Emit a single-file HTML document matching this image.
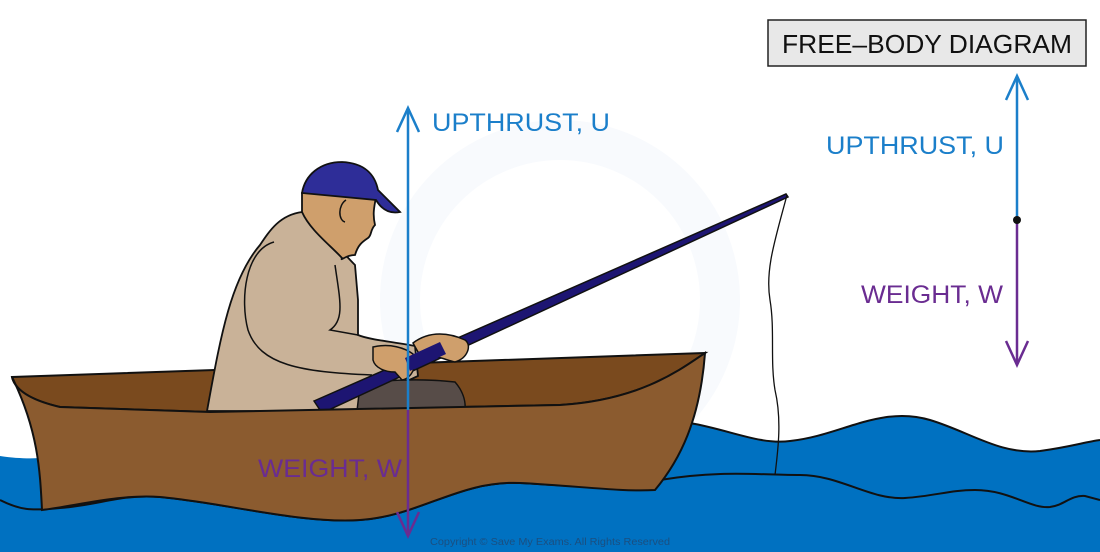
<!DOCTYPE html>
<html><head><meta charset="utf-8"><style>
html,body{margin:0;padding:0;background:#fff;}
svg{display:block;}
text{font-family:"Liberation Sans",sans-serif;}
</style></head><body>
<svg width="1100" height="552" viewBox="0 0 1100 552" xmlns="http://www.w3.org/2000/svg">
<!-- faint watermark -->
<circle cx="560" cy="300" r="160" fill="none" stroke="#f8fafd" stroke-width="40"/>
<!-- water -->
<path d="M0,456 C40,462 60,455 100,452 L300,440 L690,423 C730,430 760,445 790,441 C840,436 880,405 930,420 C970,432 1000,455 1040,451 C1070,447 1085,442 1100,440 L1100,552 L0,552 Z" fill="#0071c1"/>
<path d="M0,500 C20,510 30,511 60,508 C100,505 120,494 160,497 C220,502 300,524 360,520 C420,516 460,480 520,483 C580,486 620,492 660,480 C720,470 760,475 800,475 C840,475 870,500 905,498 C935,496 950,490 975,490 C1010,490 1030,509 1050,507 C1065,505 1070,495 1085,496 L1100,500" fill="none" stroke="#111" stroke-width="2"/>
<path d="M690,423 C730,430 760,445 790,441 C840,436 880,405 930,420 C970,432 1000,455 1040,451 C1070,447 1085,442 1100,440" fill="none" stroke="#111" stroke-width="2"/>
<!-- boat interior -->
<path d="M12,377 L705,353 C680,370 640,400 560,405 L210,412 L60,407 C30,400 15,390 12,377 Z" fill="#7a4a1e" stroke="#111" stroke-width="2"/>
<!-- coat -->
<path d="M207,411 C220,340 230,280 260,245 C270,230 280,215 302,212 C320,225 340,250 355,265 L358,300 L358,335 C370,340 395,342 415,346 L418,376 L405,382 L380,380 L365,385 L357,411 Z" fill="#c9b298" stroke="#111" stroke-width="1.8"/>
<path d="M274,242 C245,250 240,300 248,330 C260,365 300,372 372,375" fill="none" stroke="#111" stroke-width="1.5"/>
<path d="M335,265 C340,300 345,320 330,330 L358,335" fill="none" stroke="#111" stroke-width="1.5"/>
<!-- head -->
<path d="M302,193 L376,196 C375,205 372,212 375,225 C370,230 372,235 368,238 C362,242 358,245 355,255 C345,255 340,262 342,258 C330,245 310,230 302,212 Z" fill="#cf9f6c" stroke="#111" stroke-width="1.8"/>
<path d="M346,200 C338,205 338,220 345,222" fill="none" stroke="#111" stroke-width="1.5"/>
<!-- cap -->
<path d="M302,193 C305,175 320,162 342,162 C365,163 375,175 378,190 L400,212 C390,214 382,210 376,200 L302,193 Z" fill="#2e2d98" stroke="#111" stroke-width="1.8"/>
<!-- seat -->
<path d="M357,411 L360,385 C375,380 420,378 455,382 C462,390 466,400 465,410 Z" fill="#574c48" stroke="#111" stroke-width="1.5"/>
<!-- rod (tapered) -->
<path d="M314,401 L786,194 L788,197 L322,413 Z" fill="#1d1572" stroke="#111" stroke-width="1.5"/>
<!-- hands -->
<path d="M373,347 C390,343 405,348 413,354 C418,365 412,378 402,380 L395,372 C385,372 375,368 373,360 Z" fill="#cf9f6c" stroke="#111" stroke-width="1.5"/>
<path d="M413,343 C430,330 450,333 465,340 C472,345 468,358 455,362 C445,360 438,355 430,358 L418,352 Z" fill="#cf9f6c" stroke="#111" stroke-width="1.5"/>
<path d="M405,358 L440,342 L446,354 L410,371 Z" fill="#1d1572"/>
<!-- boat hull -->
<path d="M12,377 C15,390 30,400 60,407 L210,412 L560,405 C640,400 680,370 705,353 C700,420 680,460 655,490 C620,492 580,486 520,483 C460,480 420,516 360,520 C300,524 220,502 160,497 C120,494 80,505 42,510 C40,470 38,430 12,377 Z" fill="#8b5b2f" stroke="#111" stroke-width="2"/>
<!-- fishing line -->
<path d="M787,195 C775,240 765,270 770,300 C775,330 770,360 775,390 C782,420 778,450 775,475" fill="none" stroke="#111" stroke-width="1.3"/>
<!-- main arrow -->
<line x1="408" y1="110" x2="408" y2="410" stroke="#1b7fca" stroke-width="2.5"/>
<line x1="408" y1="410" x2="408" y2="534" stroke="#6a2c91" stroke-width="2.5"/>
<path d="M397,132 L408,108 L419,132" fill="none" stroke="#1b7fca" stroke-width="2.5"/>
<path d="M397,512 L408,536 L419,512" fill="none" stroke="#6a2c91" stroke-width="2.5"/>
<text x="432" y="131" font-size="25" fill="#1b7fca" textLength="178" lengthAdjust="spacingAndGlyphs">UPTHRUST, U</text>
<text x="258" y="477" font-size="25" fill="#6a2c91" textLength="144" lengthAdjust="spacingAndGlyphs">WEIGHT, W</text>
<text x="430" y="545" font-size="10" fill="#1a4f80" textLength="240" lengthAdjust="spacingAndGlyphs">Copyright © Save My Exams. All Rights Reserved</text>
<!-- FBD -->
<rect x="768" y="20" width="318" height="46" fill="#e8e8e8" stroke="#222" stroke-width="1.5"/>
<text x="782" y="53" font-size="26" fill="#111" textLength="290" lengthAdjust="spacingAndGlyphs">FREE–BODY  DIAGRAM</text>
<line x1="1017" y1="78" x2="1017" y2="220" stroke="#1b7fca" stroke-width="2.5"/>
<line x1="1017" y1="220" x2="1017" y2="363" stroke="#6a2c91" stroke-width="2.5"/>
<path d="M1006,100 L1017,76 L1028,100" fill="none" stroke="#1b7fca" stroke-width="2.5"/>
<path d="M1006,341 L1017,365 L1028,341" fill="none" stroke="#6a2c91" stroke-width="2.5"/>
<circle cx="1017" cy="220" r="4" fill="#111"/>
<text x="826" y="154" font-size="25" fill="#1b7fca" textLength="178" lengthAdjust="spacingAndGlyphs">UPTHRUST, U</text>
<text x="861" y="303" font-size="25" fill="#6a2c91" textLength="142" lengthAdjust="spacingAndGlyphs">WEIGHT, W</text>
</svg>
</body></html>
